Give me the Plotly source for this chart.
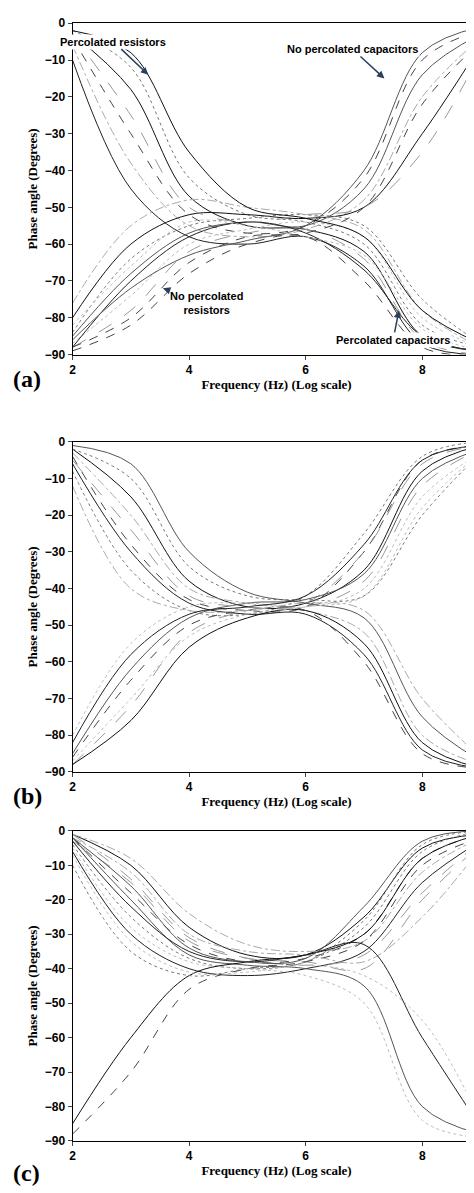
import plotly.graph_objects as go

x_pts = [2, 3, 4, 5, 6, 7, 8, 9]

curves_a = [
    [-3, -18, -47, -55, -56, -62, -85, -89],
    [-4, -30, -52, -57, -55, -42, -10, -2],
    [-2, -12, -42, -52, -54, -60, -82, -88],
    [-6, -38, -55, -58, -56, -48, -20, -4],
    [-10, -45, -58, -60, -58, -66, -87, -90],
    [-88, -78, -62, -57, -56, -64, -86, -90],
    [-85, -68, -57, -54, -55, -45, -14, -3],
    [-87, -74, -60, -56, -54, -58, -80, -88],
    [-80, -60, -52, -52, -53, -50, -30, -6],
    [-89, -82, -68, -60, -58, -70, -88, -90],
    [-84, -64, -55, -53, -52, -55, -75, -87],
    [-76, -55, -48, -50, -52, -56, -78, -88],
    [-88, -70, -58, -54, -57, -67, -85, -89],
    [-3, -25, -50, -54, -52, -50, -35, -8],
    [-86, -72, -63, -59, -55, -40, -8, -1],
    [-82, -66, -54, -55, -58, -63, -83, -89],
    [-2, -8, -35, -50, -53, -58, -78, -87],
    [-88, -80, -65, -58, -57, -50, -22, -5],
]
curves_b = [
    [-2, -15, -38, -45, -44, -35, -8, -1],
    [-4, -28, -43, -46, -45, -30, -5, -1],
    [-8, -35, -46, -47, -42, -25, -4, 0],
    [-3, -20, -40, -44, -46, -52, -80, -88],
    [-6, -30, -44, -47, -47, -58, -84, -89],
    [-88, -72, -52, -46, -44, -30, -6, -1],
    [-85, -62, -48, -44, -43, -36, -10, -2],
    [-80, -55, -45, -44, -45, -40, -15, -3],
    [-88, -76, -56, -48, -46, -55, -82, -89],
    [-86, -65, -50, -46, -46, -60, -85, -89],
    [-2, -10, -34, -42, -43, -42, -20, -3],
    [-12, -40, -46, -46, -44, -46, -70, -86],
    [-82, -58, -47, -45, -42, -28, -5, -1],
    [-5, -24, -42, -45, -45, -38, -12, -2],
    [-1, -6, -30, -41, -44, -48, -75, -87],
    [-87, -70, -53, -47, -45, -42, -18, -3],
]
curves_c = [
    [-1, -10, -28, -36, -36, -25, -5, -1],
    [-2, -18, -33, -38, -37, -30, -8, -1],
    [-4, -25, -37, -40, -38, -28, -6, 0],
    [-1, -8, -24, -33, -35, -32, -12, -2],
    [-6, -30, -40, -42, -40, -35, -15, -3],
    [-3, -15, -32, -37, -38, -40, -20, -4],
    [-2, -20, -36, -39, -40, -45, -80, -88],
    [-5, -28, -38, -40, -42, -50, -84, -89],
    [-85, -60, -42, -38, -36, -30, -8, -1],
    [-88, -70, -46, -40, -38, -32, -10, -2],
    [-10, -35, -42, -40, -38, -26, -4, 0],
    [-2, -12, -30, -35, -36, -38, -25, -5],
    [-3, -22, -35, -38, -36, -33, -60, -86],
    [-1, -14, -31, -37, -39, -36, -18, -3],
    [-2, -16, -34, -38, -37, -22, -3, 0],
    [-7, -32, -41, -41, -39, -42, -55, -84],
]

greys = ["#111", "#444", "#777", "#aaa", "#222", "#999", "#555", "#bbb"]
dashes = ["solid", "dash", "dot", "dashdot", "solid", "longdash", "solid", "dot"]

fig = go.Figure()
panels = [(curves_a, "x", "y"), (curves_b, "x2", "y2"), (curves_c, "x3", "y3")]
for curves, xa, ya in panels:
    for i, c in enumerate(curves):
        fig.add_trace(go.Scatter(x=x_pts, y=c, mode="lines", xaxis=xa, yaxis=ya,
                                 line=dict(color=greys[i % 8], width=1, dash=dashes[i % 8],
                                           shape="spline", smoothing=1.0),
                                 showlegend=False, hoverinfo="skip"))

font = dict(family="Liberation Serif", size=13, color="black")
axkw = dict(showline=True, linecolor="black", linewidth=1, mirror=True, ticks="outside",
            ticklen=4, showgrid=False, zeroline=False,
            tickfont=dict(family="Liberation Sans", size=12, color="black", weight="bold"))
domains = [[0.712, 0.993], [0.358, 0.638], [0.045, 0.308]]
layout = dict(width=474, height=1193, margin=dict(l=0, r=0, t=0, b=0),
              plot_bgcolor="white", paper_bgcolor="white")
for k in range(3):
    s = "" if k == 0 else str(k + 1)
    layout["xaxis" + s] = dict(axkw, domain=[0.131, 0.999], range=[2, 9], tickvals=[2, 4, 6, 8],
                               anchor="y" + s,
                               title=dict(text="<b>Frequency (Hz) (Log scale)</b>", font=font, standoff=2))
    layout["yaxis" + s] = dict(axkw, domain=domains[k], range=[-90, 0], dtick=10, anchor="x" + s,
                               title=dict(text="<b>Phase angle (Degrees)</b>", font=font, standoff=4))
fig.update_layout(**layout)

big = dict(family="Liberation Serif", size=24, color="black")
for lab, yy in [("(a)", 1 - 368 / 1193), ("(b)", 1 - 790 / 1193), ("(c)", 1 - 1172 / 1193)]:
    fig.add_annotation(text="<b>" + lab + "</b>", x=0.0, y=yy, xref="paper", yref="paper",
                       xanchor="left", yanchor="middle", showarrow=False, font=big)

afont = dict(family="Liberation Sans", size=11, color="black")
notes = [
    ("<b>Percolated resistors</b>", 3.3, -14, 2.7, -5, "left"),
    ("<b>No percolated capacitors</b>", 7.35, -15, 6.8, -7, "right"),
    ("<b>No percolated<br>resistors</b>", 3.55, -72, 4.3, -76, "left"),
    ("<b>Percolated capacitors</b>", 7.6, -78, 7.5, -86, "center"),
]
for txt, ax_, ay_, tx, ty, al in notes:
    fig.add_annotation(x=ax_, y=ay_, ax=tx, ay=ty, xref="x", yref="y", axref="x", ayref="y",
                       text=txt, showarrow=True, arrowhead=2, arrowsize=1, arrowwidth=1.5,
                       font=afont, align="center", bgcolor="white")

fig.write_html("out.html")
